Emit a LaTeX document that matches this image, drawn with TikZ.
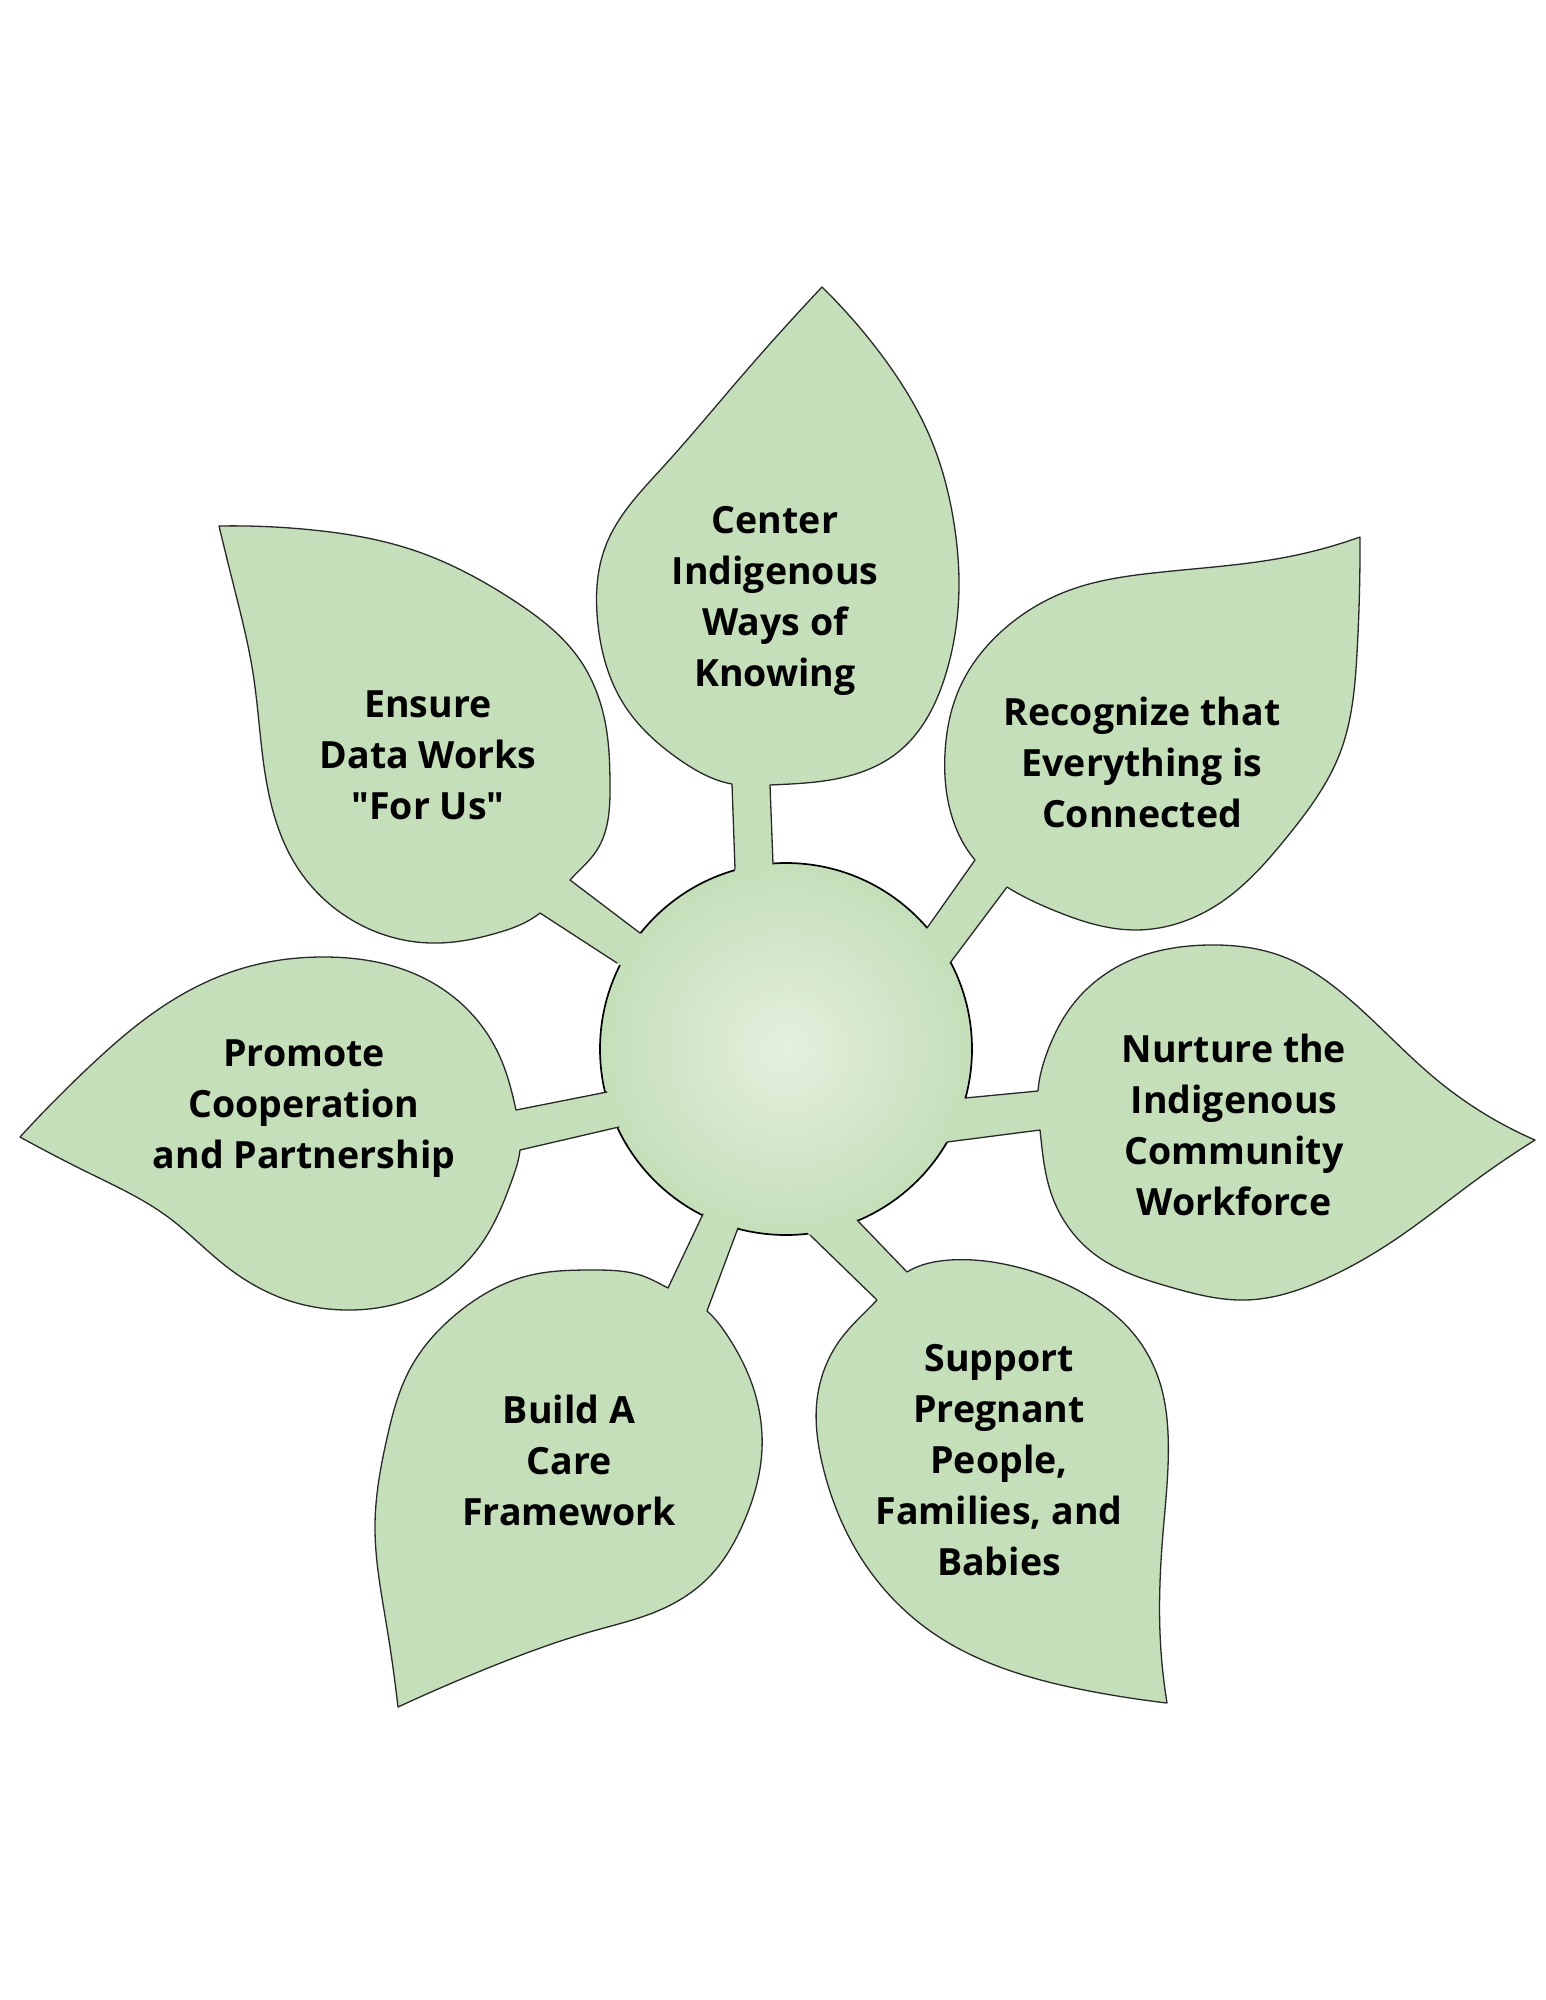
\documentclass[tikz,border=0pt]{standalone}
\usepackage{fontspec}
\newfontfamily\lblfont{Open Sans}
\usetikzlibrary{calc,hobby}
\definecolor{leafc}{RGB}{197,223,186}
\definecolor{hubin}{RGB}{228,240,222}
\definecolor{edgec}{RGB}{40,40,40}
\tikzset{
  leaf/.style={fill=leafc, draw=edgec, line width=1.3pt, line join=round, use Hobby shortcut},
  stemside/.style={draw=edgec, line width=1.3pt, line cap=round},
  stemfill/.style={fill=leafc},
  lbl/.style={align=center, inner sep=0pt, text=black, font={\lblfont\bfseries\fontsize{37.5}{51}\selectfont}},
}
\newcommand\stemband[4]{%
  \fill[stemfill] ($(#1)!-6pt!(#2)$) -- ($(#2)!-7pt!(#1)$) -- ($(#3)!-7pt!(#4)$) -- ($(#4)!-6pt!(#3)$) -- cycle;
  \draw[stemside] (#1) -- (#2);
  \draw[stemside] (#4) -- (#3);
}
\begin{document}
\begin{tikzpicture}[x=1pt,y=-1pt]
\fill[white] (0,0) rectangle (1545,2000);
\useasboundingbox (0,0) rectangle (1545,2000);

% leaves
\draw[leaf] (822,287) .. (880,353) .. (930,437) .. (955,530) .. (959,587) .. (947,670) .. (897,753) .. (830,780) .. (770,785) .. (732,784) .. (680,760) .. (623,703) .. (598,625) .. (606,545) .. (663,467) .. (740,378) .. (822,287) -- cycle;
\draw[leaf] (219,526) .. (313,530) .. (413,550) .. (513,600) .. (580,660) .. (607,733) .. (610,783) .. (597,850) .. (570,880) .. (540,913) .. (497,933) .. (430,943) .. (347,917) .. (297,867) .. (268,790) .. (253,673) .. (233,583) .. (219,526) -- cycle;
\draw[leaf] (1360,537) .. (1357,653) .. (1340,753) .. (1287,837) .. (1220,903) .. (1137,930) .. (1053,910) .. (1007,887) .. (975,860) .. (953,820) .. (945,753) .. (960,687) .. (1003,630) .. (1070,590) .. (1153,573) .. (1287,557) .. (1360,537) -- cycle;
\draw[leaf] (1535,1140) .. (1476,1180) .. (1399,1237) .. (1323,1280) .. (1246,1300) .. (1170,1287) .. (1093,1253) .. (1051,1193) .. (1040,1130) .. (1038,1091) .. (1048,1050) .. (1074,1003) .. (1131,960) .. (1208,945) .. (1284,957) .. (1342,993) .. (1437,1080) .. (1535,1140) -- cycle;
\draw[leaf] (1167,1703) .. (1100,1693) .. (1017,1673) .. (933,1633) .. (867,1567) .. (823,1467) .. (817,1400) .. (840,1340) .. (877,1300) .. (907,1272) .. (950,1260) .. (1017,1267) .. (1083,1293) .. (1133,1333) .. (1160,1383) .. (1168,1433) .. (1163,1533) .. (1160,1633) .. (1167,1703) -- cycle;
\draw[leaf] (398,1707) .. (387,1628) .. (375,1524) .. (387,1438) .. (410,1369) .. (460,1311) .. (527,1276) .. (593,1270) .. (643,1276) .. (668,1288) .. (707,1311) .. (727,1335) .. (753,1387) .. (762,1449) .. (743,1524) .. (710,1576) .. (660,1610) .. (593,1631) .. (493,1666) .. (398,1707) -- cycle;
\draw[leaf] (20,1137) .. (89,1067) .. (168,1003) .. (247,967) .. (326,957) .. (405,970) .. (465,1007) .. (500,1057) .. (516,1110) .. (520,1150) .. (512,1180) .. (484,1240) .. (425,1293) .. (346,1310) .. (287,1300) .. (227,1267) .. (168,1217) .. (89,1173) .. (20,1137) -- cycle;

% hub
\node[circle, minimum size=372pt, inner sep=0pt, draw=black, line width=1.7pt, inner color=hubin, outer color=leafc] (hub) at (786,1049) {};

% stem coordinates
\coordinate (c1a) at (735,869); \coordinate (l1a) at (732,784); \coordinate (l1b) at (770,785); \coordinate (c1b) at (773,864);
\coordinate (c2a) at (640,933); \coordinate (l2a) at (570,880); \coordinate (l2b) at (540,913); \coordinate (c2b) at (617,963);
\coordinate (c3a) at (927,928); \coordinate (l3a) at (975,860); \coordinate (l3b) at (1007,887); \coordinate (c3b) at (950,963);
\coordinate (c4a) at (965,1098); \coordinate (l4a) at (1038,1091); \coordinate (l4b) at (1040,1130); \coordinate (c4b) at (947,1142);
\coordinate (c5a) at (810,1235); \coordinate (l5a) at (877,1300); \coordinate (l5b) at (907,1272); \coordinate (c5b) at (857,1220);
\coordinate (c6a) at (703,1214); \coordinate (l6a) at (668,1288); \coordinate (l6b) at (707,1311); \coordinate (c6b) at (738,1228);
\coordinate (c7a) at (607,1092); \coordinate (l7a) at (516,1110); \coordinate (l7b) at (520,1150); \coordinate (c7b) at (619,1127);

\stemband{c1a}{l1a}{l1b}{c1b}
\stemband{c2a}{l2a}{l2b}{c2b}
\stemband{c3a}{l3a}{l3b}{c3b}
\stemband{c4a}{l4a}{l4b}{c4b}
\stemband{c5a}{l5a}{l5b}{c5b}
\stemband{c6a}{l6a}{l6b}{c6b}
\stemband{c7a}{l7a}{l7b}{c7b}

% labels
\node[lbl] (t1) at (775,601) {Center\\Indigenous\\Ways of\\Knowing};
\node[lbl] (t2) at (428,755) {Ensure\\Data Works\\"For Us"};
\node[lbl] (t3) at (1142,762) {Recognize that\\Everything is\\Connected};
\node[lbl] (t4) at (1234,1125) {Nurture the\\Indigenous\\Community\\Workforce};
\node[lbl] (t5) at (999,1460) {Support\\Pregnant\\People,\\Families, and\\Babies};
\node[lbl] (t6) at (569,1460) {Build A\\Care\\Framework};
\node[lbl] (t7) at (304,1109) {Promote\\Cooperation\\and Partnership};
\end{tikzpicture}
\end{document}
